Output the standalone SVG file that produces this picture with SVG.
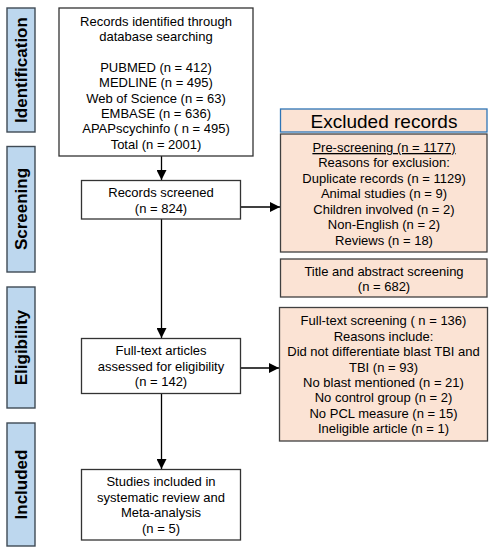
<svg xmlns="http://www.w3.org/2000/svg" width="491" height="550" viewBox="0 0 491 550">
<defs>
<style>
.phase{fill:#bdd7ee;stroke:#3f4a55;stroke-width:1.4}
.box{fill:#ffffff;stroke:#333333;stroke-width:1.3}
.exc{fill:#fbe3d4;stroke:#404040;stroke-width:1.3}
.hdr{fill:#fbe3d4;stroke:#2e75b6;stroke-width:1.3}
.pt{font-family:"Liberation Sans",Arial,sans-serif;font-weight:bold;font-size:17px;fill:#000;text-anchor:middle}
.t{font-family:"Liberation Sans",Arial,sans-serif;font-size:13px;fill:#000;text-anchor:middle}
.u{text-decoration:underline;text-decoration-skip-ink:none}
.h{font-family:"Liberation Sans",Arial,sans-serif;font-size:19px;fill:#000;text-anchor:middle}
.ln{stroke:#000;stroke-width:1.3;fill:none}
</style>
<marker id="ah" viewBox="0 0 10 10" refX="10" refY="5" markerWidth="10" markerHeight="10" markerUnits="userSpaceOnUse" orient="auto">
<path d="M0,0 L10,5 L0,10 Z" fill="#000"/>
</marker>
</defs>
<rect width="491" height="550" fill="#ffffff"/>

<g id="phase-identification">
<rect class="phase" x="7" y="8" width="28" height="124"/>
<text class="pt" transform="translate(27,70) rotate(-90)">Identification</text>
</g>
<g id="phase-screening">
<rect class="phase" x="7" y="146.5" width="28" height="125.5"/>
<text class="pt" transform="translate(27,209) rotate(-90)">Screening</text>
</g>
<g id="phase-eligibility">
<rect class="phase" x="7" y="287" width="28" height="121"/>
<text class="pt" transform="translate(27,347.5) rotate(-90)">Eligibility</text>
</g>
<g id="phase-included">
<rect class="phase" x="7" y="423" width="28" height="123"/>
<text class="pt" transform="translate(27,484.5) rotate(-90)">Included</text>
</g>

<g id="connectors">
<line class="ln" x1="161.5" y1="156" x2="161.5" y2="180" marker-end="url(#ah)"/>
<line class="ln" x1="240.5" y1="207" x2="280" y2="207" marker-end="url(#ah)"/>
<line class="ln" x1="161.5" y1="219" x2="161.5" y2="338" marker-end="url(#ah)"/>
<line class="ln" x1="240.5" y1="368" x2="279" y2="368" marker-end="url(#ah)"/>
<line class="ln" x1="161.5" y1="393" x2="161.5" y2="469" marker-end="url(#ah)"/>
</g>

<g id="records-identified">
<rect class="box" x="59" y="8" width="194" height="148"/>
<text class="t" x="156" y="25.5">Records identified through</text>
<text class="t" x="156" y="40.9">database searching</text>
<text class="t" x="156" y="71.7">PUBMED (n = 412)</text>
<text class="t" x="156" y="87.1">MEDLINE (n = 495)</text>
<text class="t" x="156" y="102.5">Web of Science (n = 63)</text>
<text class="t" x="156" y="117.9">EMBASE (n = 636)</text>
<text class="t" x="156" y="133.3">APAPscychinfo ( n = 495)</text>
<text class="t" x="156" y="148.7">Total (n = 2001)</text>
</g>

<g id="records-screened">
<rect class="box" x="81.5" y="180.5" width="159" height="38.5"/>
<text class="t" x="161" y="197.4">Records screened</text>
<text class="t" x="161" y="213">(n = 824)</text>
</g>

<g id="full-text-articles">
<rect class="box" x="81.5" y="338.5" width="159" height="55"/>
<text class="t" x="161" y="355.4">Full-text articles</text>
<text class="t" x="161" y="370.6">assessed for eligibility</text>
<text class="t" x="161" y="385.8">(n = 142)</text>
</g>

<g id="studies-included">
<rect class="box" x="81.5" y="469.5" width="159" height="70.5"/>
<text class="t" x="161" y="486.4">Studies included in</text>
<text class="t" x="161" y="501.8">systematic review and</text>
<text class="t" x="161" y="517.2">Meta-analysis</text>
<text class="t" x="161" y="532.6">(n = 5)</text>
</g>

<g id="excluded-header">
<rect class="hdr" x="280.5" y="109" width="206.5" height="23"/>
<text class="h" x="384" y="128">Excluded records</text>
</g>

<g id="pre-screening">
<rect class="exc" x="280.5" y="134" width="206.5" height="118"/>
<text class="t u" x="384" y="152">Pre-screening (n = 1177)</text>
<text class="t" x="384" y="167.4">Reasons for exclusion:</text>
<text class="t" x="384" y="182.9">Duplicate records (n = 1129)</text>
<text class="t" x="384" y="198.3">Animal studies (n = 9)</text>
<text class="t" x="384" y="213.8">Children involved  (n = 2)</text>
<text class="t" x="384" y="229.2">Non-English (n = 2)</text>
<text class="t" x="384" y="244.7">Reviews (n = 18)</text>
</g>

<g id="title-abstract">
<rect class="exc" x="280.5" y="259" width="206.5" height="38"/>
<text class="t" x="384" y="276.4">Title and abstract screening</text>
<text class="t" x="384" y="291.4">(n = 682)</text>
</g>

<g id="full-text-screening">
<rect class="exc" x="279.5" y="307.5" width="208" height="133.5"/>
<text class="t" x="383.5" y="325.4">Full-text screening ( n = 136)</text>
<text class="t" x="383.5" y="340.8">Reasons include:</text>
<text class="t" x="383.5" y="356.2">Did not differentiate blast TBI  and</text>
<text class="t" x="383.5" y="371.6">TBI  (n = 93)</text>
<text class="t" x="383.5" y="387">No blast mentioned (n = 21)</text>
<text class="t" x="383.5" y="402.4">No control group (n = 2)</text>
<text class="t" x="383.5" y="417.8">No PCL measure (n = 15)</text>
<text class="t" x="383.5" y="433.2">Ineligible article (n = 1)</text>
</g>
</svg>
